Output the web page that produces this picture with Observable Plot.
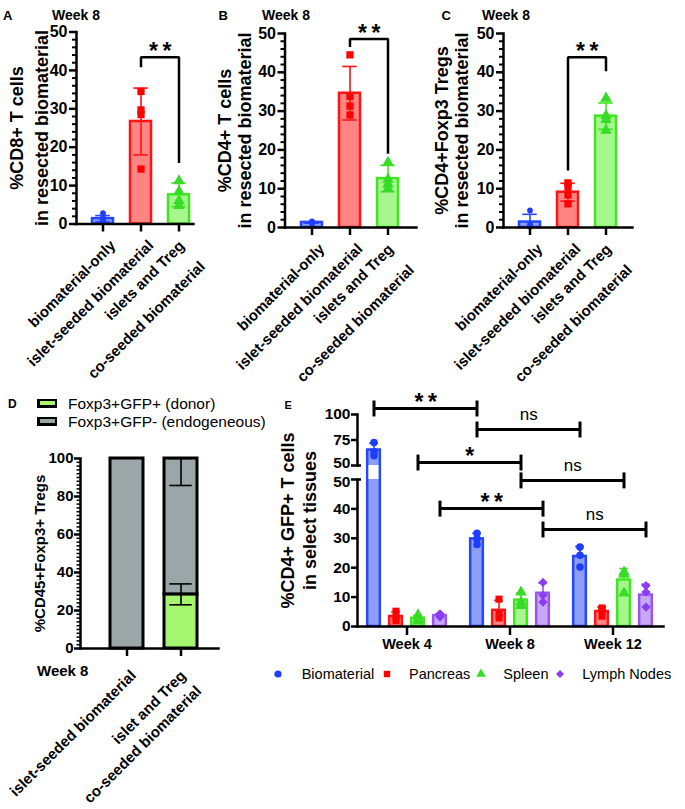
<!DOCTYPE html>
<html><head><meta charset="utf-8">
<script src="https://cdn.jsdelivr.net/npm/d3@7"></script>
<script src="https://cdn.jsdelivr.net/npm/@observablehq/plot@0.6"></script>
<style>
body{margin:0;background:#fff;}
#page{position:relative;width:685px;height:809px;overflow:hidden;font-family:"Liberation Sans",Arial,Helvetica,sans-serif;color:#000;}
#page > svg{position:absolute;left:0;top:0;}
.lbl{position:absolute;white-space:nowrap;line-height:1;}
</style></head><body><div id="page"></div>
<script>
const W = 685, H = 809;
const FONT = '"Liberation Sans", Arial, Helvetica, sans-serif';
const page = document.getElementById("page");

// ---------- Panels A–C data (Week 8) ----------
const groups = ["biomaterial-only", "islet-seeded biomaterial", "islets and Treg\nco-seeded biomaterial"];
const cd8Mean = [1.4, 26.7, 7.6];
const cd8SD = [0.8, 8.7, 3.1];
const cd8Points = [[2.8, 1.5, 1.0, 0.4], [34.5, 29.7, 28.5, 14.3], [11.2, 8.5, 6.0, 4.8]];
const cd8Bracket = [40.8, 43.4, 15.9];
const cd4Mean = [1.3, 34.6, 12.6];
const cd4SD = [0.2, 6.9, 3.4];
const cd4Points = [[1.6, 1.3, 1.2, 1.1], [44.5, 33.8, 31.3, 29.0], [16.8, 12.4, 11.2, 10.0]];
const cd4Bracket = [46.5, 48.6, 19.0];
const tregMean = [1.4, 9.1, 28.7];
const tregSD = [2.0, 2.3, 3.4];
const tregPoints = [[4.4, 0.8, 0.3, 0.2], [11.5, 10.4, 8.4, 6.1], [33.3, 28.8, 27.8, 25.0]];
const tregBracket = [14.7, 43.9, 40.3];
const yTicksABC = [0, 10, 20, 30, 40, 50];
const sigLabel = "*\u2009*";

// ---------- Panel D data ----------
const dGroups = ["islet-seeded biomaterial", "islet and Treg\nco-seeded biomaterial"];
const dSeries = ["Foxp3+GFP+ (donor)", "Foxp3+GFP- (endogeneous)"];
const donorPct = [0, 28.5];
const donorSD = [0, 5.5];
const endoPct = [100, 71.5];
const endoSD = [0, 14.2];
const dTicks = [0, 20, 40, 60, 80, 100];

// ---------- Panel E data ----------
const weeks = ["Week 4", "Week 8", "Week 12"];
const tissues = ["Biomaterial", "Pancreas", "Spleen", "Lymph Nodes"];
const biomatMean = [65.2, 29.8, 23.8];
const biomatSD = [6.6, 1.9, 3.4];
const biomatPts = [[72.5, 63.5, 59.5], [31.7, 29.8, 27.9], [27.0, 24.2, 20.2]];
const pancMean = [3.4, 5.5, 5.1];
const pancSD = [1.6, 3.4, 1.5];
const pancPts = [[5.2, 3.0, 2.0], [9.3, 4.3, 2.9], [6.3, 5.5, 3.5]];
const spleenMean = [2.8, 9.0, 15.8];
const spleenSD = [1.0, 2.4, 3.9];
const spleenPts = [[3.9, 2.6, 1.8], [11.7, 8.3, 7.1], [18.5, 17.7, 11.3]];
const lymphMean = [3.7, 11.3, 10.7];
const lymphSD = [0.6, 3.5, 3.7];
const lymphPts = [[4.3, 3.7, 3.2], [15.0, 10.6, 8.3], [13.9, 11.7, 6.6]];
const eLowerTicks = [0, 10, 20, 30, 40, 50];
const eUpperTicks = [50, 75, 100];
const eBreak = 50;
const eTop = 100;
const eBrackets = [
  {from: "Week 4", to: "Week 8", tissue: "Biomaterial", y: 105.9, label: "**"},
  {from: "Week 8", to: "Week 12", tissue: "Biomaterial", y: 85.3, label: "ns"},
  {from: "Week 4", to: "Week 8", tissue: "Spleen", y: 52.9, label: "*"},
  {from: "Week 8", to: "Week 12", tissue: "Spleen", y: 49.7, label: "ns"},
  {from: "Week 4", to: "Week 8", tissue: "Lymph Nodes", y: 40.1, label: "**"},
  {from: "Week 8", to: "Week 12", tissue: "Lymph Nodes", y: 33.0, label: "ns"}
];

// ---------- styles ----------
const gFill = ["#8e9df8", "#ff8585", "#a6f78e"];
const gStroke = ["#2447ff", "#ff1414", "#40e620"];
const gDot = ["#1f3dff", "#ff0000", "#36dc26"];
const gSym = ["circle", "square", "triangle"];
const gR = [2.9, 4.1, 4.3];
const tFill = ["#8e9df8", "#ff8585", "#a6f78e", "#c6a8f5"];
const tStroke = ["#2447ff", "#ff1414", "#40e620", "#9a55f0"];
const tDot = ["#1f3dff", "#ff0000", "#36dc26", "#8a3ef0"];
const tSym = ["circle", "square", "triangle", "diamond2"];
const tR = [3.8, 4.0, 4.3, 4.2];
const dColors = ["#a6f571", "#9ba6a9"];
const baseStyle = `position:absolute;left:0;top:0;background:transparent;overflow:visible;color:black;font-family:${FONT};`;
const vbar = {draw(ctx, size) { const h = Math.sqrt(size); ctx.moveTo(0, -h); ctx.lineTo(0, h); }};
const isMulti = s => s.includes("\n");

function add(el) { page.appendChild(el); }

function weekPanel(o) {
  const stats = groups.map((g, i) => ({g, i, mean: o.means[i], sd: o.sds[i]}));
  const pts = groups.flatMap((g, i) => o.points[i].map(v => ({g, i, v})));
  const br = [
    {g: groups[1], v: o.bracket[0]}, {g: groups[1], v: o.bracket[1]},
    {g: groups[2], v: o.bracket[1]}, {g: groups[2], v: o.bracket[2]}
  ];
  const bw = 21.5, step = o.step;
  const pin = 1 - bw / step;
  const capInset = (bw - 15) / 2;
  const minor = d3.range(0, 51, 2).filter(v => v % 10);
  const lab = {x: d => d, text: d => d, frameAnchor: "bottom", rotate: -45, textAnchor: "end", lineAnchor: "middle", fontSize: 15, fontWeight: "bold", fontFamily: FONT};
  return Plot.plot({
    width: W, height: H,
    marginLeft: o.X0, marginRight: W - o.xEnd, marginTop: o.Y50, marginBottom: H - o.Y0,
    style: baseStyle,
    x: {type: "band", domain: groups, range: [o.c0 - step / 2, o.c0 + 2.5 * step], paddingInner: pin, paddingOuter: pin / 2, axis: null},
    y: {domain: [0, 50], axis: null},
    color: {type: "identity"},
    marks: [
      Plot.barY(stats, {x: "g", y: "mean", fill: d => gFill[d.i], stroke: d => gStroke[d.i], strokeWidth: 2.5}),
      Plot.ruleX(stats, {x: "g", y1: d => Math.max(0, d.mean - d.sd), y2: d => d.mean + d.sd, stroke: d => gStroke[d.i], strokeWidth: 1.6}),
      Plot.tickY(stats, {x: "g", y: d => d.mean + d.sd, stroke: d => gStroke[d.i], strokeWidth: 1.6, inset: capInset}),
      Plot.tickY(stats.filter(d => d.mean - d.sd > 0), {x: "g", y: d => d.mean - d.sd, stroke: d => gStroke[d.i], strokeWidth: 1.6, inset: capInset}),
      ...groups.map((g, i) => Plot.dot(pts.filter(d => d.i === i), {x: "g", y: "v", symbol: gSym[i], r: gR[i], fill: gDot[i], stroke: "none"})),
      Plot.frame({anchor: "left", strokeWidth: 2.5}),
      Plot.frame({anchor: "bottom", strokeWidth: 2.5}),
      Plot.axisY({ticks: yTicksABC, tickSize: 7, tickPadding: 2, fontSize: 16, fontWeight: "bold", fontFamily: FONT, strokeWidth: 2.5, label: null}),
      Plot.axisY({ticks: minor, tickSize: 4, tickFormat: () => "", strokeWidth: 2, label: null}),
      Plot.axisX({tickSize: 8, tickFormat: () => "", strokeWidth: 2.5, label: null}),
      Plot.text(groups.filter(g => !isMulti(g)), {...lab, dx: 10, dy: 19}),
      Plot.text(groups.filter(isMulti), {...lab, dx: 10, dy: 26.5, lineHeight: 1.95}),
      Plot.text([o.ylabel], {text: d => d, frameAnchor: "left", rotate: -90, dx: o.labelDx, textAnchor: "middle", lineAnchor: "middle", fontSize: 18, fontWeight: "bold", fontFamily: FONT, lineHeight: o.labelLH}),
      Plot.line(br, {x: "g", y: "v", stroke: "black", strokeWidth: 2.5, strokeLinejoin: "miter", strokeLinecap: "butt"}),
      Plot.text([sigLabel], {x: () => groups[1], y: () => o.bracket[1], text: d => d, dx: step / 2, dy: -5.5, fontSize: 23, fontWeight: "bold", fontFamily: FONT})
    ]
  });
}

add(weekPanel({X0: 76, xEnd: 193, Y0: 223.5, Y50: 31.5, c0: 102, step: 38.3,
  means: cd8Mean, sds: cd8SD, points: cd8Points, bracket: cd8Bracket,
  ylabel: "%CD8+ T cells\nin resected biomaterial", labelDx: -49, labelLH: 1.42}));
add(weekPanel({X0: 284.5, xEnd: 416, Y0: 227, Y50: 33, c0: 311.7, step: 38.3,
  means: cd4Mean, sds: cd4SD, points: cd4Points, bracket: cd4Bracket,
  ylabel: "%CD4+ T cells\nin resected biomaterial", labelDx: -50.5, labelLH: 1.12}));
add(weekPanel({X0: 503, xEnd: 632, Y0: 227, Y50: 33, c0: 529, step: 38.3,
  means: tregMean, sds: tregSD, points: tregPoints, bracket: tregBracket,
  ylabel: "%CD4+Foxp3 Tregs\nin resected biomaterial", labelDx: -52, labelLH: 1.1}));

// ---------- Panel D ----------
{
  const stack = dGroups.flatMap((g, i) => [{g, s: dSeries[0], v: donorPct[i]}, {g, s: dSeries[1], v: endoPct[i]}]);
  const err = dGroups.flatMap((g, i) => {
    const out = [];
    if (donorSD[i] > 0) out.push({g, y1: donorPct[i] - donorSD[i], y2: donorPct[i] + donorSD[i]});
    if (endoSD[i] > 0) out.push({g, y1: donorPct[i] + endoPct[i] - endoSD[i], y2: donorPct[i] + endoPct[i]});
    return out;
  });
  const step = 54, bw = 32.6, pin = 1 - bw / step;
  const minor = d3.range(0, 101, 2).filter(v => v % 20);
  const lab = {x: d => d, text: d => d, frameAnchor: "bottom", rotate: -45, textAnchor: "end", lineAnchor: "middle", fontSize: 15, fontWeight: "bold", fontFamily: FONT};
  add(Plot.plot({
    width: W, height: H,
    marginLeft: 80, marginRight: W - 218, marginTop: 458, marginBottom: H - 648,
    style: baseStyle,
    x: {type: "band", domain: dGroups, range: [126 - step / 2, 180 + step / 2], paddingInner: pin, paddingOuter: pin / 2, axis: null},
    y: {domain: [0, 100], axis: null},
    color: {domain: dSeries, range: dColors},
    marks: [
      Plot.barY(stack, {x: "g", y: "v", fill: "s", stroke: "black", strokeWidth: 3}),
      Plot.ruleX(err, {x: "g", y1: "y1", y2: "y2", stroke: "black", strokeWidth: 1.6}),
      Plot.tickY(err, {x: "g", y: "y1", stroke: "black", strokeWidth: 1.6, inset: (bw - 22) / 2}),
      Plot.tickY(err, {x: "g", y: "y2", stroke: "black", strokeWidth: 1.6, inset: (bw - 22) / 2}),
      Plot.frame({anchor: "left", strokeWidth: 2.5}),
      Plot.frame({anchor: "bottom", strokeWidth: 2.5}),
      Plot.axisY({ticks: dTicks, tickSize: 6, tickPadding: 1, fontSize: 15, fontWeight: "bold", fontFamily: FONT, strokeWidth: 2.5, label: null}),
      Plot.axisY({ticks: minor, tickSize: 3.5, tickFormat: () => "", strokeWidth: 1.5, label: null}),
      Plot.axisX({tickSize: 8, tickFormat: () => "", strokeWidth: 2.5, label: null}),
      Plot.text(dGroups.filter(g => !isMulti(g)), {...lab, dx: 6.5, dy: 24.5}),
      Plot.text(dGroups.filter(isMulti), {...lab, dx: 8.5, dy: 31, lineHeight: 1.45}),
      Plot.text(["%CD45+Foxp3+ Tregs"], {text: d => d, frameAnchor: "left", rotate: -90, dx: -40, textAnchor: "middle", lineAnchor: "middle", fontSize: 15, fontWeight: "bold", fontFamily: FONT})
    ]
  }));
}

// ---------- Panel E ----------
{
  const means = [biomatMean, pancMean, spleenMean, lymphMean];
  const sds = [biomatSD, pancSD, spleenSD, lymphSD];
  const ptsAll = [biomatPts, pancPts, spleenPts, lymphPts];
  const stats = tissues.map((t, k) => weeks.map((w, j) => ({week: w, mean: means[k][j], sd: sds[k][j]})));
  const pts = tissues.map((t, k) => weeks.flatMap((w, j) => ptsAll[k][j].map(v => ({week: w, v}))));
  const eps = 1e-6;
  const yDomain = [0, eBreak, eBreak + eps, eTop];
  const yRange = [626, 479, 465, 414];
  const xRange = [354.5, 664.5];
  const half = (xRange[1] - xRange[0]) / weeks.length / 2;
  const tOff = [-33, -11, 11, 33];
  const barHalf = 6.5, capHalf = 4.5;
  const marks = [];
  tissues.forEach((t, k) => {
    const o = tOff[k];
    marks.push(Plot.barY(stats[k], {x: "week", y: "mean", fill: tFill[k], stroke: tStroke[k], strokeWidth: 2.5, insetLeft: half + o - barHalf, insetRight: half - o - barHalf}));
    marks.push(Plot.barY(stats[k].filter(d => d.mean > eBreak), {x: "week", y1: () => eBreak, y2: () => eBreak + eps, fill: "white", insetLeft: half + o - barHalf + 1.3, insetRight: half - o - barHalf + 1.3}));
  });
  tissues.forEach((t, k) => {
    const o = tOff[k];
    marks.push(Plot.ruleX(stats[k], {x: "week", y1: "mean", y2: d => d.mean + d.sd, dx: o, stroke: tStroke[k], strokeWidth: 1.6}));
    marks.push(Plot.tickY(stats[k], {x: "week", y: d => d.mean + d.sd, stroke: tStroke[k], strokeWidth: 1.6, insetLeft: half + o - capHalf, insetRight: half - o - capHalf}));
    marks.push(Plot.dot(pts[k], {x: "week", y: "v", dx: o, symbol: tSym[k], r: tR[k], fill: tDot[k], stroke: "none"}));
  });
  eBrackets.forEach(b => {
    const o = tOff[tissues.indexOf(b.tissue)];
    const ends = [{x: b.from, y: b.y}, {x: b.to, y: b.y}];
    marks.push(Plot.line(ends, {x: "x", y: "y", dx: o, stroke: "black", strokeWidth: 3, strokeLinecap: "butt"}));
    marks.push(Plot.dot(ends, {x: "x", y: "y", dx: o, symbol: vbar, r: 4.5, stroke: "black", strokeWidth: 3, fill: "none"}));
    const star = b.label !== "ns";
    marks.push(Plot.text([b], {x: "from", y: "y", text: d => star ? d.label.split("").join("\u2009") : d.label, dx: o + half, dy: star ? -5.5 : -15, fontSize: star ? 23 : 17, fontWeight: star ? "bold" : "normal", fontFamily: FONT}));
  });
  const upper = eUpperTicks.map(v => v === eBreak ? v + eps : v);
  const txtStyle = {tickSize: 0, tickPadding: 7, fontSize: 15.5, fontWeight: "bold", fontFamily: FONT, label: null, tickFormat: d => Math.round(d)};
  marks.push(
    Plot.frame({anchor: "left", strokeWidth: 2.5, insetTop: yRange[1] - yRange[3]}),
    Plot.frame({anchor: "left", strokeWidth: 2.5, insetBottom: yRange[0] - yRange[2]}),
    Plot.frame({anchor: "bottom", strokeWidth: 2.5}),
    Plot.axisY({ticks: [...eLowerTicks, ...upper], tickSize: 6, tickFormat: () => "", strokeWidth: 2.5, label: null}),
    Plot.axisY({...txtStyle, ticks: [...eLowerTicks, ...upper].filter(v => Math.round(v) !== eBreak)}),
    Plot.axisY({...txtStyle, ticks: [eBreak], dy: 2.5}),
    Plot.axisY({...txtStyle, ticks: [eBreak + eps], dy: -2.5}),
    Plot.axisY({ticks: [eBreak, eBreak + eps], tickSize: 4, dx: 4, tickFormat: () => "", strokeWidth: 2.5, label: null}),
    Plot.axisX({tickSize: 9, tickPadding: 3, fontSize: 14.5, fontWeight: "bold", fontFamily: FONT, strokeWidth: 2.5, label: null}),
    Plot.text(["%CD4+ GFP+ T cells\nin select tissues"], {text: d => d, frameAnchor: "left", rotate: -90, dx: -60, textAnchor: "middle", lineAnchor: "middle", fontSize: 18, fontWeight: "bold", fontFamily: FONT, lineHeight: 1.22})
  );
  add(Plot.plot({
    width: W, height: H,
    marginLeft: 357, marginRight: W - 663, marginTop: yRange[3], marginBottom: H - yRange[0],
    style: baseStyle,
    x: {type: "band", domain: weeks, range: xRange, padding: 0, axis: null},
    y: {type: "linear", domain: yDomain, range: yRange, axis: null},
    marks
  }));
}

// ---------- HTML labels, titles, legends ----------
function txt(s, x, yc, size, weight = "bold") {
  const d = document.createElement("div");
  d.className = "lbl"; d.textContent = s;
  d.style.left = x + "px"; d.style.top = (yc - 0.49 * size) + "px";
  d.style.fontSize = size + "px"; d.style.fontWeight = weight;
  page.appendChild(d);
}
txt("A", 3, 15, 13); txt("Week 8", 52, 15, 14);
txt("B", 218.5, 15, 13); txt("Week 8", 262, 15, 14);
txt("C", 441.5, 15, 13); txt("Week 8", 482, 15, 14);
txt("D", 8, 403.5, 12);
txt("E", 284.5, 405.5, 11);
txt("Week 8", 37, 670, 15);

// D legend
dSeries.forEach((s, i) => {
  const yc = 403.3 + i * 18.4;
  const sw = document.createElement("div");
  sw.style.cssText = `position:absolute;left:37px;top:${yc - 4.5}px;width:15px;height:4px;background:${dColors[i]};border:2px solid #000;border-left-width:3px;border-bottom-width:3px;`;
  page.appendChild(sw);
  txt(s, 68, yc, 15.5, "normal");
});

// E legend
const legX = [278.3, 386.7, 481, 560];
const legTextX = [301.7, 409, 503.3, 582.3];
tissues.forEach((t, k) => {
  const ns = "http://www.w3.org/2000/svg";
  const svg = document.createElementNS(ns, "svg");
  svg.setAttribute("width", 12); svg.setAttribute("height", 12);
  svg.style.cssText = `position:absolute;left:${legX[k] - 6}px;top:${674 - 6}px;`;
  const p = document.createElementNS(ns, "path");
  const sym = {circle: d3.symbolCircle, square: d3.symbolSquare, triangle: d3.symbolTriangle, diamond2: d3.symbolDiamond2}[tSym[k]];
  p.setAttribute("d", d3.symbol(sym, Math.PI * 3.6 * 3.6)());
  p.setAttribute("transform", "translate(6,6)");
  p.setAttribute("fill", tDot[k]);
  svg.appendChild(p);
  page.appendChild(svg);
  txt(t, legTextX[k], 674, 14.5, "normal");
});
</script></body></html>
